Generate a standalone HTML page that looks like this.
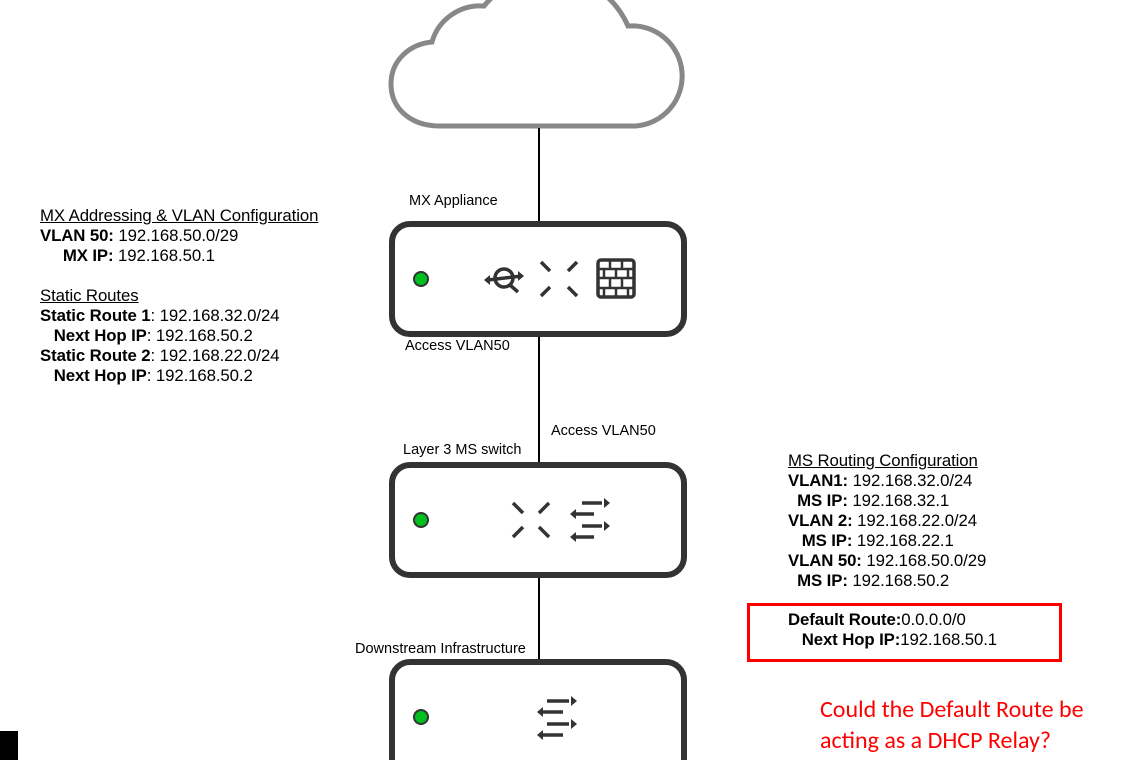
<!DOCTYPE html>
<html><head><meta charset="utf-8"><style>
body{margin:0;width:1145px;height:760px;overflow:hidden;background:#fff;position:relative;font-family:"Liberation Sans",sans-serif;color:#000}
.t{position:absolute;font-size:14.5px;line-height:20px;white-space:nowrap}
.b{font-size:16.8px;letter-spacing:-0.1px}
.u{text-decoration:underline}
.r{position:absolute;font-family:"Carlito","Liberation Sans",sans-serif;color:#f00;font-size:24px;line-height:31px;left:820px;top:694px;white-space:nowrap}
</style></head><body>
<svg width="1145" height="760" style="position:absolute;left:0;top:0">
<path d="M440,126 L636,126 A50,50 0 0 0 628,26 A85,85 0 0 0 484,6 C460,4 438,20 432,42 C410,44 391,60 391,84 C391,108 410,126 440,126 Z" fill="#fff" stroke="#888" stroke-width="5"/>
<g stroke="#000" stroke-width="2">
<line x1="539" y1="128" x2="539" y2="222"/><line x1="539" y1="335" x2="539" y2="463"/><line x1="539" y1="577" x2="539" y2="660"/></g>
<g fill="#fff" stroke="#333" stroke-width="6">
<rect x="392" y="224" width="292" height="110" rx="18"/>
<rect x="392" y="465" width="292" height="110" rx="18"/>
<rect x="392" y="662" width="292" height="120" rx="18"/></g>
<g fill="#00c020" stroke="#333" stroke-width="2"><circle cx="421" cy="279" r="7"/><circle cx="421" cy="520" r="7"/><circle cx="421" cy="717" r="7"/></g>
<g stroke="#333" stroke-width="3.5" fill="none">
<circle cx="504" cy="278" r="9"/><line x1="510" y1="285" x2="518" y2="292"/><line x1="488" y1="280" x2="522" y2="276"/>
<path d="M541,262 l9,9 M577,262 l-9,9 M541,296 l9,-9 M577,296 l-9,-9"/>
<rect x="598" y="260" width="36" height="37" rx="3"/>
<path d="M598,269 H634 M598,278 H634 M598,288 H634 M610,260 V269 M622,260 V269 M604,269 V278 M616,269 V278 M628,269 V278 M610,278 V288 M622,278 V288 M604,288 V297 M616,288 V297 M628,288 V297" stroke-width="2.5"/>
<path d="M513,503 l10,10 M549,503 l-10,10 M513,537 l10,-10 M549,537 l-10,-10"/>
<path d="M582,503 H602 M574,514 H594 M582,526 H602 M574,537 H594"/>
<path d="M547,701 H569 M541,712 H563 M547,724 H569 M541,735 H563"/>
</g>
<g fill="#333">
<polygon points="604,498 610,503 604,508"/><polygon points="570,514 576,509 576,519"/><polygon points="604,521 610,526 604,531"/><polygon points="570,537 576,532 576,542"/>
<polygon points="571,696 577,701 571,706"/><polygon points="537,712 543,707 543,717"/><polygon points="571,719 577,724 571,729"/><polygon points="537,735 543,730 543,740"/>
<polygon points="484,280 490,275 490,285"/><polygon points="524,276 518,271 518,281"/>
</g>
<rect x="748.5" y="604.5" width="312" height="56" fill="none" stroke="#f00" stroke-width="3"/>
<rect x="0" y="731" width="18" height="29" fill="#000"/>
</svg>
<div class="t" style="left:409px;top:191px">MX Appliance</div>
<div class="t" style="left:405px;top:336px">Access VLAN50</div>
<div class="t" style="left:551px;top:421px">Access VLAN50</div>
<div class="t" style="left:403px;top:440px">Layer 3 MS switch</div>
<div class="t" style="left:355px;top:639px">Downstream Infrastructure</div>
<div class="t b" style="left:40px;top:206px"><span class="u">MX Addressing &amp; VLAN Configuration</span><br><b>VLAN 50:</b> 192.168.50.0/29<br>&nbsp;&nbsp;&nbsp;&nbsp;&nbsp;<b>MX IP:</b> 192.168.50.1<br><br><span class="u">Static Routes</span><br><b>Static Route 1</b>: 192.168.32.0/24<br>&nbsp;&nbsp;&nbsp;<b>Next Hop IP</b>: 192.168.50.2<br><b>Static Route 2</b>: 192.168.22.0/24<br>&nbsp;&nbsp;&nbsp;<b>Next Hop IP</b>: 192.168.50.2</div>
<div class="t b" style="left:788px;top:451px"><span class="u">MS Routing Configuration</span><br><b>VLAN1:</b> 192.168.32.0/24<br>&nbsp;&nbsp;<b>MS IP:</b> 192.168.32.1<br><b>VLAN 2:</b> 192.168.22.0/24<br>&nbsp;&nbsp;&nbsp;<b>MS IP:</b> 192.168.22.1<br><b>VLAN 50:</b> 192.168.50.0/29<br>&nbsp;&nbsp;<b>MS IP:</b> 192.168.50.2</div>
<div class="t b" style="left:788px;top:610px"><b>Default Route:</b>0.0.0.0/0<br>&nbsp;&nbsp;&nbsp;<b>Next Hop IP:</b>192.168.50.1</div>
<div class="r">Could the Default Route be<br>acting as a DHCP Relay?</div>
</body></html>
